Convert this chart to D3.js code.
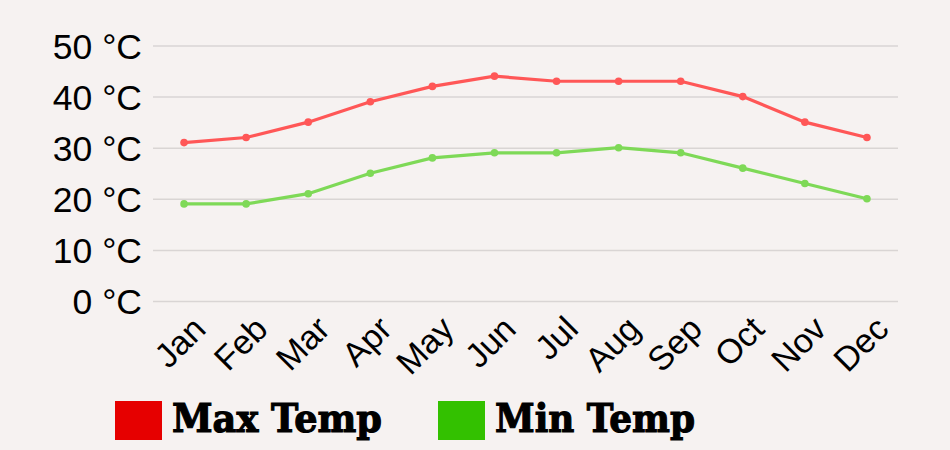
<!DOCTYPE html>
<html>
<head>
<meta charset="utf-8">
<script src="https://cdn.jsdelivr.net/npm/d3@7"></script>
<style>
body{margin:0;background:#f6f2f1;}
svg{display:block;}
</style>
</head>
<body>
<svg id="chart"></svg>
<script>
// months + temps
var months=["Jan","Feb","Mar","Apr","May","Jun","Jul","Aug","Sep","Oct","Nov","Dec"];
var maxTemp=[31,32,35,39,42,44,43,43,43,40,35,32];
var minTemp=[19,19,21,25,28,29,29,30,29,26,23,20];
var yTicks=[0,10,20,30,40,50];
var seriesNames=["Max Temp","Min Temp"];

var screen={width:950,height:450}
var plot={left:153,right:898,top:45.5,bottom:301}

var svg=d3.select("#chart")
    .attr("width",screen.width)
    .attr("height",screen.height)

svg.append("rect")
    .attr("width",screen.width)
    .attr("height",screen.height)
    .attr("fill","#f6f2f1")

var xScale=d3.scalePoint()
    .domain(months)
    .range([plot.left,plot.right])
    .padding(0.5);
var yScale=d3.scaleLinear()
    .domain([0,50])
    .range([plot.bottom,plot.top]);

// gridlines
var yAxis=d3.axisLeft(yScale)
    .tickValues(yTicks)
    .tickSize(-(plot.right-plot.left))
    .tickPadding(11)
    .tickFormat(function(d){return d+" °C";});

var yG=svg.append("g")
    .attr("transform","translate("+plot.left+",0)")
    .call(yAxis);
yG.select(".domain").remove();
yG.selectAll(".tick line")
    .attr("stroke","#d9d5d4")
    .attr("stroke-width",1.5);
yG.selectAll(".tick text")
    .attr("fill","#000")
    .attr("dy","0.36em")
    .style("font-family","'Liberation Sans',Arial,sans-serif")
    .style("font-size","35.5px");

// x labels
var xAxis=d3.axisBottom(xScale).tickSize(0).tickPadding(0);
var xG=svg.append("g")
    .attr("transform","translate(0,"+plot.bottom+")")
    .call(xAxis);
xG.select(".domain").remove();
xG.selectAll(".tick text")
    .attr("fill","#000")
    .style("font-family","'Liberation Sans',Arial,sans-serif")
    .style("font-size","34px")
    .attr("text-anchor","end")
    .attr("y",0).attr("dy","0")
    .attr("transform","translate(23,30) rotate(-45)");

var line=d3.line()
    .x(function(d,i){return xScale(months[i]);})
    .y(function(d){return yScale(d);});

var drawSeries=function(values,color)
{
    svg.append("path")
        .datum(values)
        .attr("fill","none")
        .attr("stroke",color)
        .attr("stroke-width",3.2)
        .attr("d",line);
    svg.append("g")
        .selectAll("circle")
        .data(values)
        .enter()
        .append("circle")
        .attr("cx",function(d,i){return xScale(months[i]);})
        .attr("cy",function(d){return yScale(d);})
        .attr("r",3.8)
        .attr("fill",color);
}
drawSeries(maxTemp,"#ff5757");
drawSeries(minTemp,"#7ed957");

// legend
var legendColors=["#e60000","#33c100"];
var legendX=[115,438];
var lg=svg.append("g")
    .selectAll("g")
    .data(seriesNames)
    .enter()
    .append("g")
    .attr("transform",function(d,i){return "translate("+legendX[i]+",401)";});
lg.append("rect")
    .attr("width",47)
    .attr("height",39)
    .attr("fill",function(d,i){return legendColors[i];});
lg.append("text")
    .attr("x",57)
    .attr("y",31)
    .attr("textLength",function(d,i){return i==0?210:200;})
    .attr("lengthAdjust","spacingAndGlyphs")
    .style("font-family","'DejaVu Serif',serif")
    .style("font-weight","bold")
    .style("font-size","40px")
    .attr("fill","#000")
    .attr("stroke","#000")
    .attr("stroke-width",1.2)
    .text(function(d){return d;});
</script>
</body>
</html>
